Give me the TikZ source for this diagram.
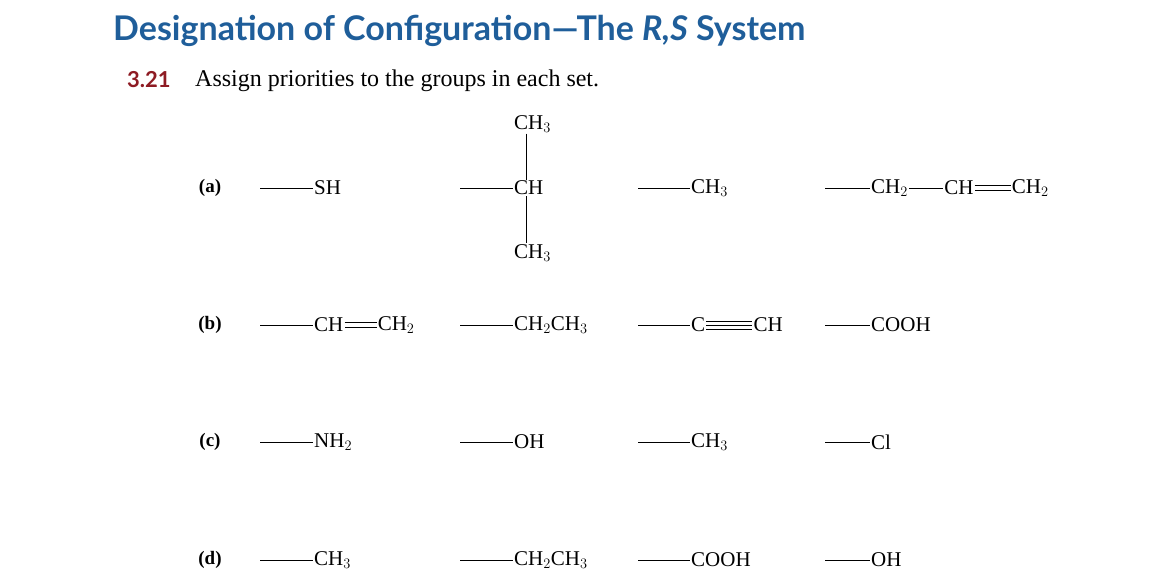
\documentclass[tikz,border=0pt]{standalone}
\usepackage{fontspec}
\setmainfont{Liberation Serif}
\newfontfamily\titlefont{Lato}
\usetikzlibrary{positioning}
\definecolor{tblue}{HTML}{1F5E9A}
\definecolor{tred}{HTML}{8E1B23}
\tikzset{grp/.style={anchor=west,inner sep=1pt,font=\fontsize{21}{23}\selectfont},
 lbl/.style={font=\fontsize{19}{22}\selectfont\bfseries},
 bond/.style={line width=1pt},
 dbl/.style={double distance=4pt,line width=1pt}}
\begin{document}
\begin{tikzpicture}[x=1pt,y=-1pt]
\useasboundingbox (0,0) rectangle (1170,581);
\node[anchor=west,inner sep=0pt,text=tblue,font=\titlefont\fontsize{34}{37}\selectfont\bfseries] (title) at (113,31) {Designation of Configuration—The \textit{R,S} System};
\node[anchor=west,inner sep=0pt,text=tred,font=\titlefont\fontsize{22}{24}\selectfont\bfseries] (num) at (127,80) {3.21};
\node[anchor=west,inner sep=0pt,font=\fontsize{24}{26}\selectfont] (q) at (195,81) {Assign priorities to the groups in each set.};
% row labels
\node[lbl] (la) at (210,188) {(a)};
\node[lbl] (lb) at (210,325) {(b)};
\node[lbl] (lc) at (210,442) {(c)};
\node[lbl] (ld) at (210,560) {(d)};
% row a
\coordinate (a1s) at (260,188); \node[grp] (a1) at (313,188) {SH}; \draw[bond] (a1s)--(a1.west);
\coordinate (a2s) at (460,188); \node[grp] (a2) at (513,188) {CH}; \draw[bond] (a2s)--(a2.west);
\node[grp] (a2t) at (513,124) {CH$_3$};
\node[grp] (a2b) at (513,253) {CH$_3$};
\draw[bond] ([xshift=13pt]a2t.south west)--([xshift=13pt]a2.north west);
\draw[bond] ([xshift=13pt]a2.south west)--([xshift=13pt]a2b.north west);
\coordinate (a3s) at (638,188); \node[grp] (a3) at (690,188) {CH$_3$}; \draw[bond] (a3s)--(a3.west);
\coordinate (a4s) at (825,188); \node[grp] (a4) at (870,188) {CH$_2$}; \draw[bond] (a4s)--(a4.west);
\node[grp,right=34pt of a4] (a5) {CH}; \draw[bond] (a4.east)--(a5.west);
\node[grp,right=36pt of a5] (a6) {CH$_2$}; \draw[dbl] (a5.east)--(a6.west);
% row b
\coordinate (b1s) at (260,325); \node[grp] (b1) at (313,325) {CH}; \draw[bond] (b1s)--(b1.west);
\node[grp,right=32pt of b1] (b1b) {CH$_2$}; \draw[dbl] (b1.east)--(b1b.west);
\coordinate (b2s) at (460,325); \node[grp] (b2) at (513,325) {CH$_2$CH$_3$}; \draw[bond] (b2s)--(b2.west);
\coordinate (b3s) at (638,325); \node[grp] (b3) at (690,325) {C}; \draw[bond] (b3s)--(b3.west);
\node[grp,right=46pt of b3] (b3b) {CH};
\draw[bond] (b3.east)--(b3b.west);
\draw[bond] ([yshift=-4pt]b3.east)--([yshift=-4pt]b3b.west);
\draw[bond] ([yshift=4pt]b3.east)--([yshift=4pt]b3b.west);
\coordinate (b4s) at (825,325); \node[grp] (b4) at (870,325) {COOH}; \draw[bond] (b4s)--(b4.west);
% row c
\coordinate (c1s) at (260,442); \node[grp] (c1) at (313,442) {NH$_2$}; \draw[bond] (c1s)--(c1.west);
\coordinate (c2s) at (460,442); \node[grp] (c2) at (513,442) {OH}; \draw[bond] (c2s)--(c2.west);
\coordinate (c3s) at (638,442); \node[grp] (c3) at (690,442) {CH$_3$}; \draw[bond] (c3s)--(c3.west);
\coordinate (c4s) at (825,442); \node[grp] (c4) at (870,442) {Cl}; \draw[bond] (c4s)--(c4.west);
% row d
\coordinate (d1s) at (260,560); \node[grp] (d1) at (313,560) {CH$_3$}; \draw[bond] (d1s)--(d1.west);
\coordinate (d2s) at (460,560); \node[grp] (d2) at (513,560) {CH$_2$CH$_3$}; \draw[bond] (d2s)--(d2.west);
\coordinate (d3s) at (638,560); \node[grp] (d3) at (690,560) {COOH}; \draw[bond] (d3s)--(d3.west);
\coordinate (d4s) at (825,560); \node[grp] (d4) at (870,560) {OH}; \draw[bond] (d4s)--(d4.west);
\end{tikzpicture}
\end{document}
